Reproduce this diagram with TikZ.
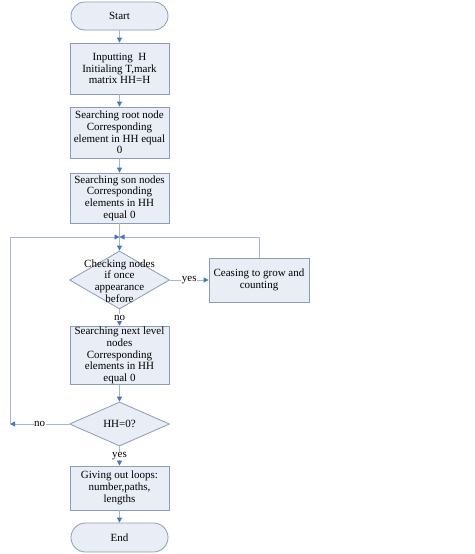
\documentclass[tikz,border=0pt]{standalone}
\usepackage{fontspec}
\setmainfont{Liberation Serif}
\usetikzlibrary{shapes.geometric,shapes.misc,arrows.meta}
\definecolor{boxfill}{RGB}{232,237,246}
\definecolor{boxline}{RGB}{140,156,184}
\definecolor{connc}{RGB}{165,182,212}
\definecolor{tipc}{RGB}{70,118,188}
\tikzset{
  txt/.style={font=\fontsize{11}{11.7}\selectfont, align=center},
  base/.style={txt, draw=boxline, fill=boxfill, line width=0.8pt, inner sep=1pt},
  proc/.style={base, rectangle, minimum width=99pt, minimum height=#1},
  term/.style={base, rounded rectangle, minimum width=99pt, minimum height=28pt},
  dec/.style={base, diamond, minimum width=100pt, minimum height=#1, inner sep=0pt},
  conn/.style={draw=connc, line width=0.8pt, -{Triangle[length=5pt,width=5pt,color=tipc]}},
  plain/.style={draw=connc, line width=0.8pt},
  lbl/.style={txt, fill=white, inner sep=0.5pt}
}
\begin{document}
\begin{tikzpicture}[x=1pt,y=-1pt]
\useasboundingbox[fill=white] (0,0) rectangle (474,554);
\node[term] (start) at (119.5,16) {Start};
\node[proc=51pt] (b1) at (119.5,68.5) {Inputting\ \ H\\Initialing T,mark\\matrix HH=H};
\node[proc=51pt] (b2) at (119.5,132.5) {Searching root node\\Corresponding\\element in HH equal\\0};
\node[proc=50pt] (b3) at (119.5,198) {Searching son nodes\\Corresponding\\elements in HH\\equal 0};
\coordinate (j) at (119.5,237);
\node[dec=58pt] (d1) at (119.5,280) {};
\node[txt] (d1t) at (119.5,281) {Checking nodes\\if once\\appearance\\before};
\node[proc=44pt, minimum width=100pt] (cease) at (259,280) {Ceasing to grow and\\counting};
\node[proc=57pt] (b4) at (119.5,355.5) {Searching next level\\nodes\\Corresponding\\elements in HH\\equal 0};
\node[dec=44pt] (d2) at (119.5,424) {};
\node[txt] (d2t) at (119.5,424) {HH=0?};
\node[proc=44pt] (b5) at (119.5,488) {Giving out loops:\\number,paths,\\lengths};
\node[term, minimum height=29pt] (end) at (119.5,537.5) {End};
\coordinate (lb) at (10,424);
\coordinate (lt) at (10,237);
\coordinate (rt) at (259,237);
\draw[conn] (start) -- (b1);
\draw[conn] (b1) -- (b2);
\draw[conn] (b2) -- (b3);
\draw[plain] (b3) -- (j);
\draw[conn] (j) -- (d1.north);
\draw[conn] (d1.east) -- node[lbl] (ly1) {yes} (cease.west);
\draw[conn] (cease.north) -- (rt) -- (j);
\draw[conn] (d1.south) -- node[lbl] (ln1) {no} (b4.north);
\draw[conn] (b4) -- (d2.north);
\draw[conn] (d2.west) -- node[lbl] (ln2) {no} (lb);
\draw[conn] (lb) -- (lt) -- (j);
\draw[conn] (d2.south) -- node[lbl] (ly2) {yes} (b5.north);
\draw[conn] (b5) -- (end);
\end{tikzpicture}
\end{document}
